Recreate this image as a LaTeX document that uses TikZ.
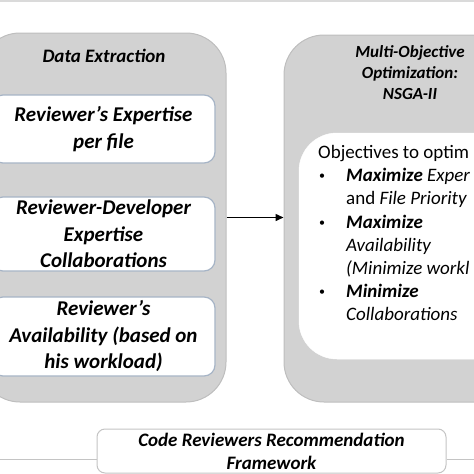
\documentclass[tikz,border=0pt]{standalone}
\usepackage{fontspec}
\setmainfont{Carlito}
\usetikzlibrary{arrows.meta}
\definecolor{panelgray}{RGB}{210,210,210}
\definecolor{panelborder}{RGB}{190,190,190}
\definecolor{boxborder}{RGB}{166,180,198}
\definecolor{linegray}{RGB}{196,196,196}
\definecolor{topgray}{RGB}{218,218,218}
\newcommand{\smbullet}{\hspace*{1pt}\makebox[27pt][l]{\raisebox{2pt}{\fontsize{12}{12}\selectfont •}}}
\begin{document}
\begin{tikzpicture}[x=1pt,y=-1pt,
  panel/.style={draw=panelborder, fill=panelgray, line width=1pt, rounded corners=40pt, inner sep=0pt},
  innerbox/.style={draw=white, fill=white, line width=0.5pt, rounded corners=38pt, inner sep=0pt},
  wbox/.style={draw=boxborder, fill=white, line width=1.2pt, rounded corners=11pt, align=center, inner sep=0pt,
    font=\fontsize{21}{26.5}\selectfont\bfseries\itshape},
  ltitle/.style={align=center, inner sep=0pt, font=\fontsize{19}{23}\selectfont\bfseries\itshape},
  rtitle/.style={align=center, inner sep=0pt, font=\fontsize{17}{21}\selectfont\bfseries\itshape},
  fwbox/.style={draw=linegray, fill=white, line width=1pt, rounded corners=8pt, align=center, inner sep=0pt,
    font=\fontsize{19}{23}\selectfont\bfseries\itshape},
  itxt/.style={inner sep=0pt, anchor=base west, font=\fontsize{19}{23}\selectfont},
  hline/.style={draw=linegray, line width=1pt},
  arr/.style={-{Triangle[length=8pt,width=7pt]}, line width=1.5pt, black}
]
\clip (0,0) rectangle (474,474);
\useasboundingbox (0,0) rectangle (474,474);
% top rule
\coordinate (t0) at (0,1);
\coordinate (t1) at (474,1);
\draw[draw=topgray, line width=2.5pt] (t0) -- (t1);
% left panel
\node[panel, minimum width=246pt, minimum height=369pt] (left) at (103,217.5) {};
\node[ltitle] (ltxt) at (104,56) {Data Extraction};
\node[wbox, minimum width=223pt, minimum height=68pt] (b1) at (103.5,129) {Reviewer’s Expertise\\per file};
\node[wbox, minimum width=223pt, minimum height=74pt] (b2) at (103.5,234) {Reviewer-Developer\\Expertise\\Collaborations};
\node[wbox, minimum width=223pt, minimum height=79pt] (b3) at (103.5,336.5) {Reviewer’s\\Availability (based on\\his workload)};
% right panel
\node[panel, minimum width=240pt, minimum height=367pt] (right) at (404,218.5) {};
\node[rtitle] (rtxt) at (410,73) {Multi-Objective\\Optimization:\\NSGA-II};
\node[innerbox, minimum width=245pt, minimum height=226pt] (inner) at (421.5,246) {};
\node[itxt] (o0) at (318,158) {Objectives to optim};
\node[itxt] (o1) at (318,181) {\smbullet\textbf{\textit{Maximize}} \textit{Exper}};
\node[itxt] (o2) at (346,204) {and \textit{File Priority}};
\node[itxt] (o3) at (318,228) {\smbullet\textbf{\textit{Maximize}}};
\node[itxt] (o4) at (346,251) {\textit{Availability}};
\node[itxt] (o5) at (346,274) {\textit{(Minimize workl}};
\node[itxt] (o6) at (318,297) {\smbullet\textbf{\textit{Minimize}}};
\node[itxt] (o7) at (346,320) {\textit{Collaborations}};
% arrow
\draw[arr] (left.east) -- (left.east -| right.west);
% framework box
\node[fwbox, minimum width=349pt, minimum height=44pt] (fw) at (271.5,451) {Code Reviewers Recommendation\\Framework};
\coordinate (l0) at (0,459);
\coordinate (r0) at (474,459);
\draw[hline] (l0) -- (fw.west |- l0);
\draw[hline] (fw.east |- r0) -- (r0);
\end{tikzpicture}
\end{document}
